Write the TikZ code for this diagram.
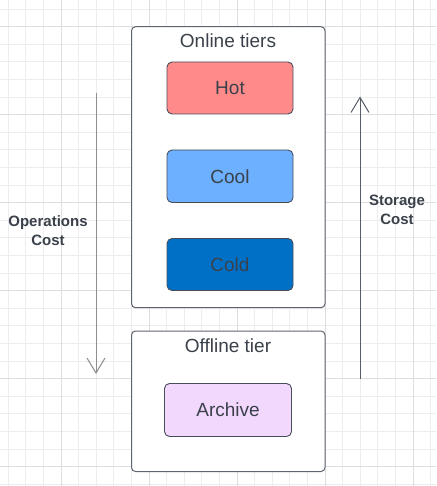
\documentclass[tikz,border=0pt]{standalone}
\usepackage{fontspec}
\setmainfont{Liberation Sans}
\usetikzlibrary{arrows.meta}
\definecolor{gridminor}{HTML}{EDEDED}
\definecolor{gridmajor}{HTML}{DEDEDE}
\definecolor{txt}{HTML}{3A414A}
\definecolor{outerline}{HTML}{5E6470}
\definecolor{innerline}{HTML}{474E5A}
\definecolor{hotfill}{HTML}{FF8A8A}
\definecolor{coolfill}{HTML}{6CB0FF}
\definecolor{coldfill}{HTML}{0070C6}
\definecolor{archfill}{HTML}{F2D8FD}
\definecolor{opsline}{HTML}{8E8E8E}
\definecolor{storline}{HTML}{565D68}
\tikzset{
  container/.style={draw=outerline, line width=1pt, fill=white, rounded corners=4pt,
    minimum width=193.5pt, inner sep=0pt},
  tier/.style={draw=innerline, line width=0.9pt, rounded corners=5pt, text=txt,
    minimum width=126pt, minimum height=52pt, inner sep=0pt, font=\fontsize{19}{22}\selectfont},
  title/.style={text=txt, inner sep=0pt, font=\fontsize{19}{22}\selectfont},
  costlabel/.style={text=txt, inner sep=0pt, align=center, font=\bfseries\fontsize{15}{19}\selectfont},
  costarrow/.style={line width=1pt, -{Straight Barb[length=15pt, width=18pt, line width=1pt]}}
}
\begin{document}
\begin{tikzpicture}[x=1pt, y=-1pt]
\useasboundingbox (0,0) rectangle (436,486);
\fill[white] (0,0) rectangle (436,486);
% grid
\foreach \k in {-3,...,21} {
  \draw[gridminor, line width=0.9pt] ({61+17.6*\k},0) -- ({61+17.6*\k},486);
}
\foreach \k in {-1,...,26} {
  \draw[gridminor, line width=0.9pt] (0,{26.7+17.6*\k}) -- (436,{26.7+17.6*\k});
}
\foreach \k in {0,...,4} {
  \draw[gridmajor, line width=0.9pt] ({61+88*\k},0) -- ({61+88*\k},486);
}
\foreach \k in {0,...,5} {
  \draw[gridmajor, line width=0.9pt] (0,{26.7+88*\k}) -- (436,{26.7+88*\k});
}
% containers
\node[container, minimum height=281pt] (online) at (228.25,167.2) {};
\node[container, minimum height=140.5pt] (offline) at (228.25,401.25) {};
\node[title] (onlinetitle) at (228,41) {Online tiers};
\node[title] (offlinetitle) at (228,345.5) {Offline tier};
% tiers
\node[tier, fill=hotfill] (hot) at (230,88) {Hot};
\node[tier, fill=coolfill, minimum height=52.5pt] (cool) at (230,176.25) {Cool};
\node[tier, fill=coldfill] (cold) at (230,264.5) {Cold};
\node[tier, fill=archfill, minimum width=127pt, minimum height=53pt] (archive) at (228,410) {Archive};
% arrows
\coordinate (opsstart) at (96,93);
\coordinate (opsend) at (96,374);
\coordinate (storstart) at (360,378.5);
\coordinate (storend) at (360,96.5);
\draw[costarrow, opsline] (opsstart) -- (opsend);
\draw[costarrow, storline] (storstart) -- (storend);
\node[costlabel] (opslabel) at (48,231) {Operations\\Cost};
\node[costlabel] (storlabel) at (397,210) {Storage\\Cost};
\end{tikzpicture}
\end{document}
